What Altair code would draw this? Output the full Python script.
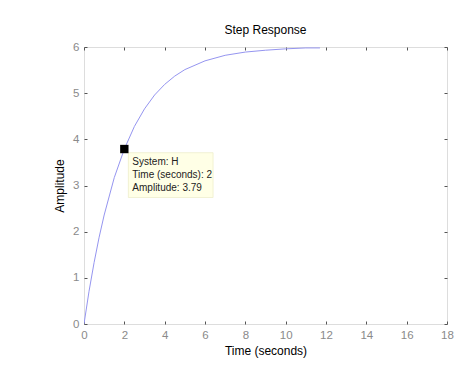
import altair as alt
import pandas as pd

# Step response
time_s = [0, 0.25, 0.5, 0.75, 1, 1.5, 2, 2.5, 3, 3.5, 4, 4.5, 5, 6, 7, 8, 9, 10, 11, 11.7]
amplitude = [0, 0.71, 1.33, 1.88, 2.36, 3.17, 3.79, 4.28, 4.66, 4.96, 5.19, 5.37, 5.51,
             5.70, 5.82, 5.89, 5.93, 5.96, 5.98, 5.98]

x_ticks = [0, 2, 4, 6, 8, 10, 12, 14, 16, 18]
y_ticks = [0, 1, 2, 3, 4, 5, 6]

# data tip
tip_t = [2]
tip_amp = [3.79]
tip_lines = ["System: H", "Time (seconds): 2", "Amplitude: 3.79"]
tip_line_amp = [3.50, 3.22, 2.95]
tip_box_t = [2.2]
tip_box_t2 = [6.4]
tip_box_amp = [3.71]
tip_box_amp2 = [2.74]

FONT = "Liberation Sans"
GRAY = "#8a8a8a"

df = pd.DataFrame({"t": time_s, "amp": amplitude})
xs = alt.Scale(domain=[0, 18], nice=False, zero=False)
ys = alt.Scale(domain=[0, 6], nice=False, zero=False)

def ax(orient, labels, title=None, vals=None, title_pad=None):
    kw = dict(orient=orient, labels=labels, values=vals, grid=False, domain=False,
              tickColor="#555555", tickSize={"expr": "-3"}, labelColor=GRAY, labelFont=FONT,
              labelFontSize=11.5, labelPadding=8, labelFlush=False, titleFont=FONT,
              titleFontSize=12, titleFontWeight="normal", titleColor="#000000")
    kw["title"] = title if title is not None else None
    if title_pad is not None:
        kw["titlePadding"] = title_pad
    return alt.Axis(**kw)

line = alt.Chart(df).mark_line(color="#9595f0", strokeWidth=1, clip=True).encode(
    x=alt.X("t:Q", scale=xs, axis=ax("bottom", True, "Time (seconds)", x_ticks, 5)),
    y=alt.Y("amp:Q", scale=ys, axis=ax("left", True, "Amplitude", y_ticks, 6)),
)

frame = alt.Chart(df).mark_line(opacity=0).encode(
    x=alt.X("t:Q", scale=xs, axis=ax("top", False, None, x_ticks)),
    y=alt.Y("amp:Q", scale=ys, axis=ax("right", False, None, y_ticks)),
)

box_df = pd.DataFrame({"t": tip_box_t, "t2": tip_box_t2, "a": tip_box_amp, "a2": tip_box_amp2})
box = alt.Chart(box_df).mark_rect(fill="#ffffe6", stroke="#eeeecc", strokeWidth=0.8).encode(
    x=alt.X("t:Q", scale=xs, axis=None), x2="t2:Q",
    y=alt.Y("a:Q", scale=ys, axis=None), y2="a2:Q",
)

txt_df = pd.DataFrame({"t": [2.2] * 3, "a": tip_line_amp, "label": tip_lines})
txt = alt.Chart(txt_df).mark_text(align="left", baseline="middle", font=FONT, fontSize=10,
                                  color="#222222", dx=4).encode(
    x=alt.X("t:Q", scale=xs, axis=None),
    y=alt.Y("a:Q", scale=ys, axis=None),
    text="label:N",
)

mk_df = pd.DataFrame({"t": tip_t, "a": tip_amp})
marker = alt.Chart(mk_df).mark_square(size=70, color="#000000", opacity=1).encode(
    x=alt.X("t:Q", scale=xs, axis=None),
    y=alt.Y("a:Q", scale=ys, axis=None),
)

chart = alt.layer(frame, box, txt, line, marker).resolve_axis(
    x="independent", y="independent"
).properties(
    width=363, height=277,
    title=alt.Title("Step Response", font=FONT, fontSize=12, fontWeight="normal",
                    color="#000000", offset=4),
    autosize=alt.AutoSizeParams(type="none"),
    padding={"left": 76, "top": 39, "right": 19, "bottom": 38},
).configure_view(stroke="#b8b8b8", strokeWidth=1).configure(background="white")

chart.save("out.html", embed_options={"renderer": "svg", "actions": False})
